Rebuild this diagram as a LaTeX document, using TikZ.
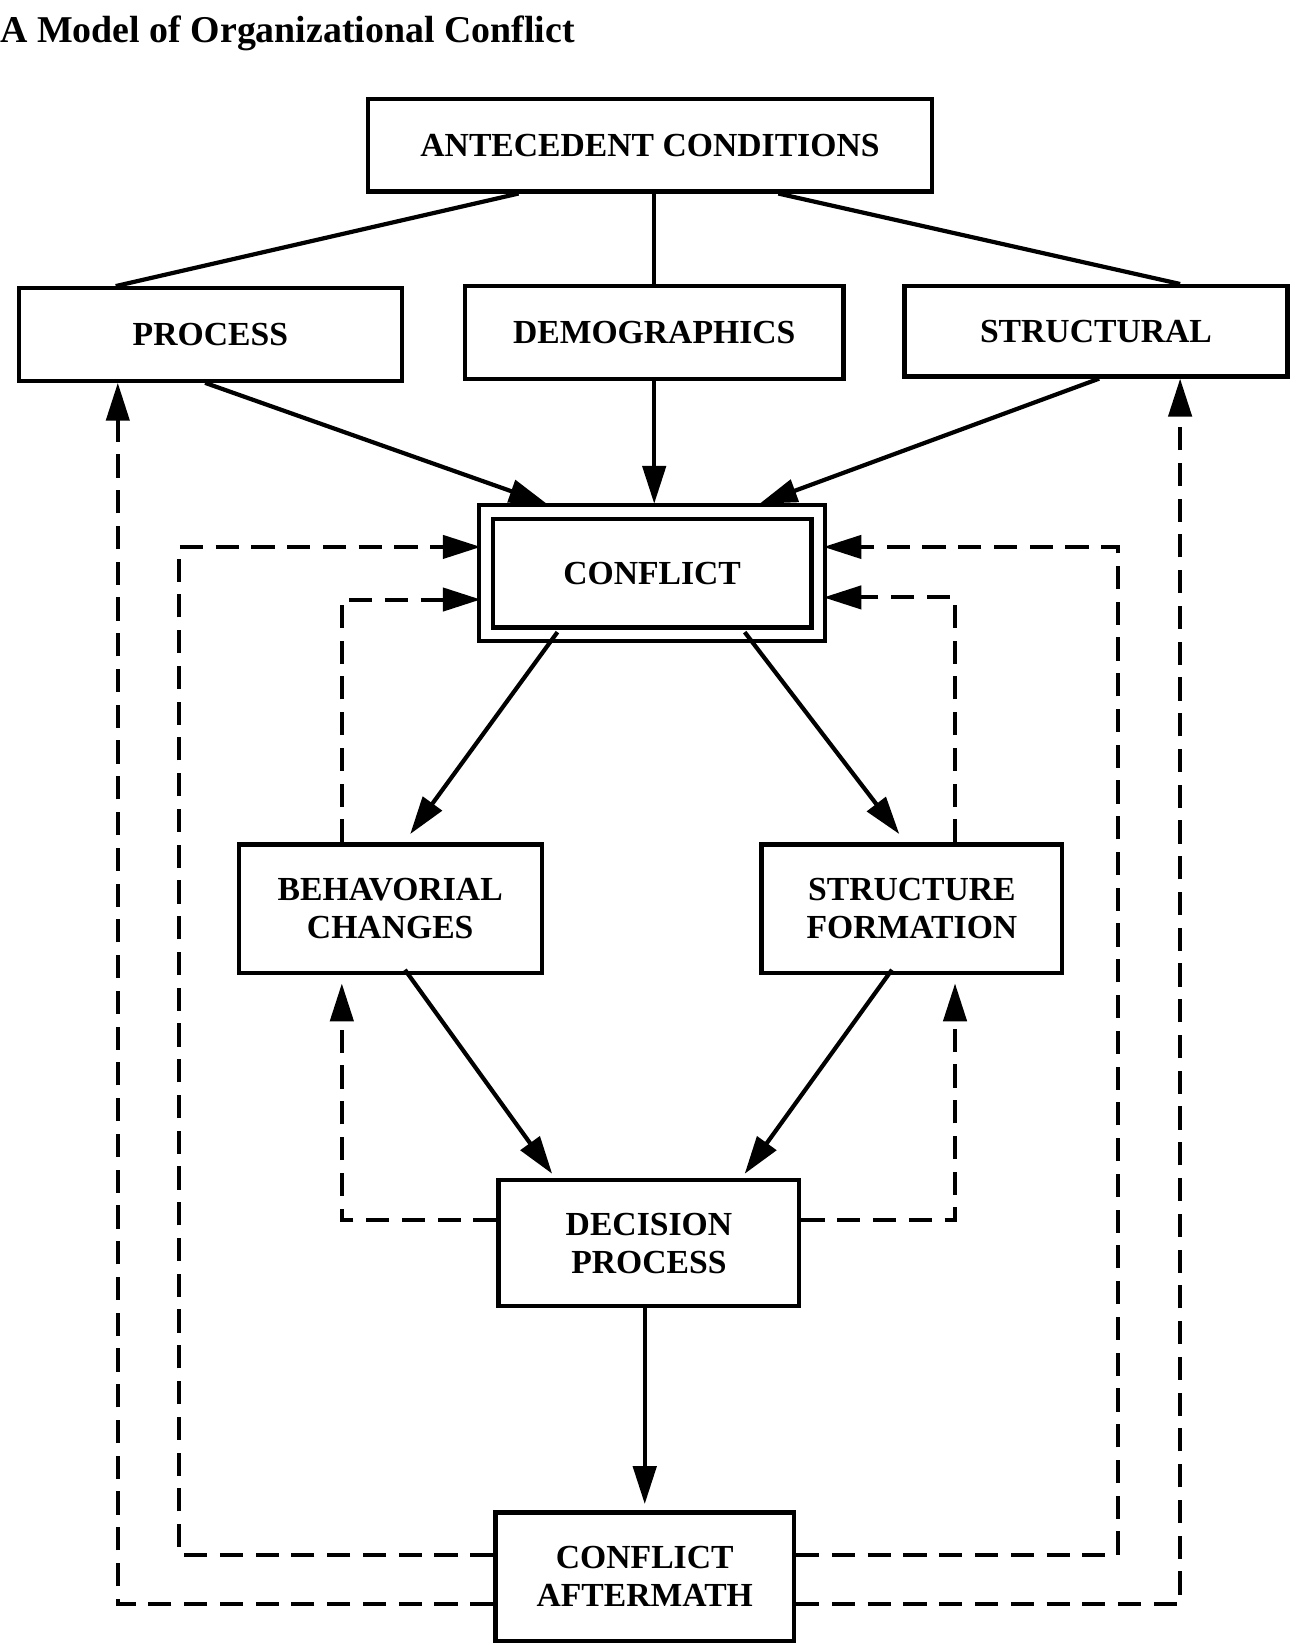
\documentclass[tikz,border=0pt]{standalone}
\usepackage{fontspec}
\setmainfont{Liberation Serif}
\usetikzlibrary{positioning,calc,arrows.meta}

\tikzset{
  box/.style={draw, line width=2pt, align=center, font=\fontsize{16}{18}\selectfont\bfseries, inner sep=2pt},
  flow/.style={line width=2pt, -{Triangle[length=18pt,width=11pt]}},
  link/.style={line width=2pt},
  back/.style={line width=1.9pt, dash pattern=on 11pt off 6pt, -{Triangle[length=18pt,width=11pt]}},
  backline/.style={line width=1.9pt, dash pattern=on 11pt off 6pt}
}

\begin{document}
\begin{tikzpicture}[x=0.5pt, y=-0.5pt]
    \useasboundingbox (0,0) rectangle (1240,1564);

    % Title
    \node[anchor=base west, font=\fontsize{18}{20}\selectfont\bfseries, inner sep=0pt] (title) at (0,40) {A Model of Organizational Conflict};

    % Boxes
    \node[box, minimum width=268pt, minimum height=44pt] (ante) at (618,138) {ANTECEDENT CONDITIONS};
    \node[box, minimum width=182pt, minimum height=44pt] (proc) at (200,318) {PROCESS};
    \node[box, minimum width=180pt, minimum height=44pt] (demo) at (622,316) {DEMOGRAPHICS};
    \node[box, minimum width=182pt, minimum height=43pt] (struc) at (1042,315) {STRUCTURAL};
    \node[box, double, double distance=4.5pt, minimum width=158pt, minimum height=58pt] (conf) at (620,545) {CONFLICT};
    \node[box, minimum width=144pt, minimum height=61pt] (behav) at (371,864) {BEHAVORIAL\\CHANGES};
    \node[box, minimum width=143pt, minimum height=61pt] (form) at (867,864) {STRUCTURE\\FORMATION};
    \node[box, minimum width=143pt, minimum height=60pt] (dec) at (617,1182) {DECISION\\PROCESS};
    \node[box, minimum width=142pt, minimum height=61pt] (after) at (613,1499) {CONFLICT\\AFTERMATH};

    % Antecedents
    \draw[link] ($(ante.south)+(-125,0)$) -- ($(proc.north)+(-90,0)$);
    \draw[link] (ante.south -| demo.north) -- (demo.north);
    \draw[link] ($(ante.south)+(122,0)$) -- ($(struc.north)+(80,0)$);

    % Into conflict
    \draw[flow] ($(proc.south)+(-5,0)$) -- ($(conf.north)+(-100,-6)$);
    \draw[flow] (demo.south) -- ($(demo.south |- conf.north)+(0,-6)$);
    \draw[flow] ($(struc.south)+(3,0)$) -- ($(conf.north)+(102,-6)$);

    % Main chain
    \draw[flow] ($(conf.south)+(-90,-4)$) -- ($(behav.north)+(19,-8)$);
    \draw[flow] ($(conf.south)+(88,-4)$) -- ($(form.north)+(-12,-8)$);
    \draw[flow] ($(behav.south)+(14,-5)$) -- ($(dec.north)+(-92,-4)$);
    \draw[flow] ($(form.south)+(-19,-5)$) -- ($(dec.north)+(91,-4)$);
    \draw[flow] (dec.south -| after.north) -- ($(after.north)+(0,-6)$);

    % Feedback loops
    \draw[back] (after.west |- 0,1525) -| (proc.south -| 112,0);
    \draw[back] (after.east |- 0,1525) -| (struc.south -| 1122,0);
    \draw[back] (after.west |- 0,1478) -| (170,520) -- ($(conf.west |- 0,520)+(-3,0)$);
    \draw[back] (after.east |- 0,1478) -| (1063,520) -- ($(conf.east |- 0,520)+(3,0)$);
    \draw[back] (behav.north -| 325,0) |- ($(conf.west |- 0,570)+(-3,0)$);
    \draw[back] (form.north -| 908,0) |- ($(conf.east |- 0,568)+(3,0)$);
    \draw[back] (dec.west |- 0,1160) -| ($(behav.south -| 325,0)+(0,8)$);
    \draw[back] (dec.east |- 0,1160) -| ($(form.south -| 908,0)+(0,8)$);
\end{tikzpicture}
\end{document}
